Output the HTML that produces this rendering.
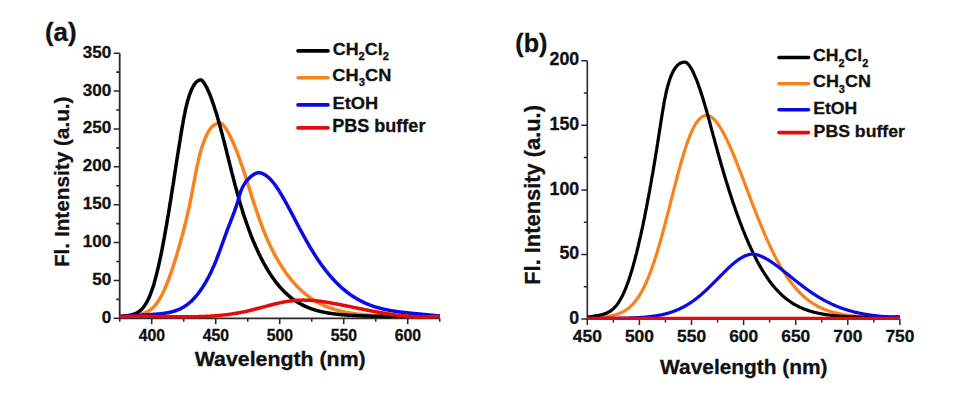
<!DOCTYPE html>
<html><head><meta charset="utf-8"><style>
html,body{margin:0;padding:0;background:#fff;width:969px;height:394px;overflow:hidden}
svg{display:block}
</style></head><body>
<svg width="969" height="394" viewBox="0 0 969 394">
<path d="M119.7,53.2 V318.3 H439.7" fill="none" stroke="#2a2a2a" stroke-width="1.8"/>
<path d="M119.70,318.3 V321.8 M151.70,318.3 V324.3 M183.70,318.3 V321.8 M215.70,318.3 V324.3 M247.70,318.3 V321.8 M279.70,318.3 V324.3 M311.70,318.3 V321.8 M343.70,318.3 V324.3 M375.70,318.3 V321.8 M407.70,318.3 V324.3 M439.70,318.3 V321.8" stroke="#2a2a2a" stroke-width="1.6"/>
<path d="M119.7,318.30 H113.7 M119.7,299.36 H116.2 M119.7,280.43 H113.7 M119.7,261.49 H116.2 M119.7,242.56 H113.7 M119.7,223.62 H116.2 M119.7,204.69 H113.7 M119.7,185.75 H116.2 M119.7,166.81 H113.7 M119.7,147.88 H116.2 M119.7,128.94 H113.7 M119.7,110.01 H116.2 M119.7,91.07 H113.7 M119.7,72.14 H116.2 M119.7,53.20 H113.7" stroke="#2a2a2a" stroke-width="1.6"/>
<path d="M587.3,60.8 V319.0 H899.9" fill="none" stroke="#2a2a2a" stroke-width="1.6"/>
<path d="M587.30,319.0 V325.0 M613.35,319.0 V322.5 M639.40,319.0 V325.0 M665.45,319.0 V322.5 M691.50,319.0 V325.0 M717.55,319.0 V322.5 M743.60,319.0 V325.0 M769.65,319.0 V322.5 M795.70,319.0 V325.0 M821.75,319.0 V322.5 M847.80,319.0 V325.0 M873.85,319.0 V322.5 M899.90,319.0 V325.0" stroke="#2a2a2a" stroke-width="1.5"/>
<path d="M587.3,319.00 H581.3 M587.3,286.73 H583.8 M587.3,254.45 H581.3 M587.3,222.18 H583.8 M587.3,189.90 H581.3 M587.3,157.62 H583.8 M587.3,125.35 H581.3 M587.3,93.08 H583.8 M587.3,60.80 H581.3" stroke="#2a2a2a" stroke-width="1.5"/>
<path d="M119.7,316.66 L120.2,316.62 L120.7,316.58 L121.2,316.54 L121.7,316.50 L122.2,316.46 L122.7,316.42 L123.2,316.38 L123.7,316.34 L124.2,316.29 L124.7,316.25 L125.2,316.21 L125.7,316.17 L126.2,316.13 L126.7,316.09 L127.2,316.04 L127.7,316.00 L128.2,315.96 L128.7,315.91 L129.2,315.87 L129.7,315.82 L130.2,315.77 L130.7,315.72 L131.2,315.67 L131.7,315.62 L132.2,315.57 L132.7,315.51 L133.2,315.46 L133.7,315.40 L134.2,315.34 L134.7,315.27 L135.1,315.21 L135.6,315.14 L136.1,315.07 L136.6,314.99 L137.1,314.91 L137.6,314.83 L138.1,314.74 L138.6,314.65 L139.1,314.55 L139.6,314.45 L140.0,314.34 L140.5,314.23 L141.0,314.11 L141.5,313.99 L142.0,313.85 L142.5,313.71 L142.9,313.56 L143.4,313.41 L143.9,313.24 L144.4,313.07 L144.9,312.89 L145.3,312.69 L145.8,312.49 L146.3,312.28 L146.8,312.05 L147.2,311.81 L147.7,311.56 L148.2,311.29 L148.6,311.01 L149.1,310.72 L149.6,310.40 L150.1,310.08 L150.5,309.73 L151.0,309.37 L151.5,308.99 L152.0,308.58 L152.4,308.16 L152.9,307.72 L153.4,307.25 L153.9,306.76 L154.3,306.25 L154.8,305.71 L155.3,305.15 L155.8,304.56 L156.3,303.94 L156.8,303.29 L157.2,302.62 L157.7,301.91 L158.2,301.18 L158.7,300.41 L159.2,299.61 L159.7,298.78 L160.2,297.91 L160.7,297.01 L161.3,296.07 L161.8,295.10 L162.3,294.10 L162.8,293.05 L163.3,291.97 L163.8,290.85 L164.4,289.70 L164.9,288.51 L165.4,287.27 L166.0,286.00 L166.5,284.69 L167.1,283.35 L167.6,281.96 L168.2,280.53 L168.7,279.07 L169.3,277.57 L169.8,276.02 L170.4,274.44 L171.0,272.82 L171.6,271.17 L172.1,269.47 L172.7,267.74 L173.3,265.98 L173.9,264.17 L174.5,262.34 L175.1,260.46 L175.7,258.56 L176.3,256.62 L176.8,254.65 L177.4,252.65 L178.0,250.62 L178.6,248.56 L179.2,246.47 L179.8,244.36 L180.4,242.22 L181.0,240.05 L181.6,237.87 L182.2,235.66 L182.8,233.44 L183.4,231.20 L184.0,228.94 L184.5,226.66 L185.1,224.38 L185.7,222.08 L186.2,219.77 L186.8,217.46 L187.3,215.13 L187.8,212.81 L188.3,210.48 L188.9,208.15 L189.4,205.82 L189.9,203.49 L190.3,201.17 L190.8,198.86 L191.3,196.55 L191.7,194.26 L192.1,191.97 L192.6,189.70 L193.0,187.45 L193.4,185.22 L193.8,183.00 L194.3,180.81 L194.7,178.65 L195.1,176.51 L195.5,174.40 L195.9,172.32 L196.3,170.27 L196.7,168.25 L197.1,166.27 L197.5,164.32 L198.0,162.42 L198.4,160.55 L198.8,158.72 L199.3,156.94 L199.7,155.19 L200.1,153.50 L200.6,151.84 L201.0,150.24 L201.5,148.68 L202.0,147.17 L202.4,145.70 L202.9,144.29 L203.4,142.92 L203.9,141.61 L204.4,140.34 L204.8,139.12 L205.3,137.96 L205.8,136.84 L206.3,135.77 L206.8,134.75 L207.3,133.78 L207.7,132.86 L208.2,131.98 L208.7,131.16 L209.2,130.38 L209.7,129.65 L210.2,128.96 L210.7,128.32 L211.1,127.72 L211.6,127.17 L212.1,126.66 L212.6,126.19 L213.1,125.76 L213.6,125.37 L214.1,125.02 L214.6,124.71 L215.1,124.43 L215.6,124.18 L216.1,123.97 L216.6,123.79 L217.1,123.64 L217.6,123.51 L218.2,123.41 L218.7,123.33 L219.2,123.28 L219.7,123.24 L220.2,123.21 L220.8,123.26 L221.4,123.56 L222.0,123.96 L222.6,124.45 L223.1,125.01 L223.7,125.62 L224.2,126.29 L224.7,127.02 L225.3,127.78 L225.8,128.59 L226.4,129.45 L226.9,130.33 L227.5,131.26 L228.0,132.21 L228.6,133.20 L229.1,134.22 L229.7,135.26 L230.2,136.34 L230.8,137.43 L231.3,138.56 L231.8,139.70 L232.4,140.87 L232.9,142.06 L233.4,143.26 L234.0,144.49 L234.5,145.73 L235.0,146.99 L235.5,148.26 L236.1,149.55 L236.6,150.85 L237.1,152.17 L237.6,153.50 L238.1,154.83 L238.6,156.18 L239.1,157.54 L239.6,158.91 L240.1,160.28 L240.5,161.67 L241.0,163.06 L241.5,164.45 L242.0,165.85 L242.5,167.26 L242.9,168.67 L243.4,170.09 L243.9,171.50 L244.3,172.93 L244.8,174.35 L245.3,175.77 L245.7,177.20 L246.2,178.63 L246.6,180.05 L247.1,181.48 L247.6,182.91 L248.0,184.33 L248.5,185.75 L248.9,187.18 L249.4,188.60 L249.8,190.01 L250.3,191.43 L250.7,192.84 L251.1,194.24 L251.6,195.65 L252.0,197.05 L252.5,198.44 L252.9,199.83 L253.4,201.21 L253.8,202.59 L254.3,203.96 L254.7,205.33 L255.2,206.68 L255.6,208.04 L256.1,209.38 L256.5,210.72 L257.0,212.05 L257.4,213.37 L257.9,214.69 L258.3,216.00 L258.8,217.30 L259.2,218.59 L259.7,219.87 L260.1,221.14 L260.6,222.41 L261.1,223.66 L261.5,224.91 L262.0,226.15 L262.5,227.37 L262.9,228.59 L263.4,229.80 L263.9,231.00 L264.4,232.18 L264.8,233.36 L265.3,234.53 L265.8,235.68 L266.3,236.83 L266.7,237.97 L267.2,239.09 L267.7,240.21 L268.2,241.31 L268.7,242.40 L269.2,243.49 L269.7,244.56 L270.2,245.62 L270.7,246.67 L271.2,247.70 L271.7,248.73 L272.2,249.75 L272.7,250.75 L273.2,251.74 L273.7,252.73 L274.2,253.70 L274.7,254.66 L275.2,255.61 L275.8,256.55 L276.3,257.47 L276.8,258.39 L277.3,259.30 L277.8,260.19 L278.3,261.08 L278.9,261.95 L279.4,262.81 L279.9,263.67 L280.4,264.51 L280.9,265.34 L281.4,266.16 L282.0,266.97 L282.5,267.77 L283.0,268.56 L283.5,269.34 L284.1,270.11 L284.6,270.87 L285.1,271.62 L285.6,272.36 L286.1,273.09 L286.7,273.81 L287.2,274.52 L287.7,275.22 L288.2,275.91 L288.7,276.59 L289.3,277.27 L289.8,277.93 L290.3,278.58 L290.8,279.23 L291.3,279.86 L291.9,280.49 L292.4,281.10 L292.9,281.71 L293.4,282.31 L293.9,282.90 L294.4,283.48 L295.0,284.06 L295.5,284.62 L296.0,285.18 L296.5,285.73 L297.0,286.27 L297.5,286.80 L298.1,287.32 L298.6,287.84 L299.1,288.35 L299.6,288.85 L300.1,289.34 L300.6,289.82 L301.1,290.30 L301.6,290.77 L302.2,291.23 L302.7,291.69 L303.2,292.14 L303.7,292.58 L304.2,293.01 L304.7,293.44 L305.2,293.86 L305.7,294.28 L306.2,294.68 L306.7,295.08 L307.2,295.48 L307.7,295.87 L308.3,296.25 L308.8,296.63 L309.3,296.99 L309.8,297.36 L310.3,297.72 L310.8,298.07 L311.3,298.41 L311.8,298.75 L312.3,299.09 L312.8,299.42 L313.3,299.74 L313.8,300.06 L314.3,300.38 L314.8,300.68 L315.3,300.99 L315.8,301.28 L316.3,301.58 L316.8,301.87 L317.3,302.15 L317.8,302.43 L318.3,302.70 L318.8,302.97 L319.3,303.23 L319.8,303.49 L320.3,303.75 L320.8,304.00 L321.3,304.25 L321.8,304.49 L322.3,304.73 L322.8,304.96 L323.3,305.19 L323.8,305.42 L324.3,305.64 L324.8,305.86 L325.3,306.07 L325.8,306.28 L326.3,306.49 L326.8,306.69 L327.3,306.89 L327.8,307.09 L328.3,307.28 L328.8,307.47 L329.3,307.65 L329.8,307.84 L330.3,308.02 L330.8,308.19 L331.3,308.36 L331.8,308.53 L332.3,308.70 L332.8,308.86 L333.3,309.02 L333.8,309.18 L334.3,309.34 L334.8,309.49 L335.2,309.64 L335.7,309.78 L336.2,309.93 L336.7,310.07 L337.2,310.21 L337.7,310.34 L338.2,310.48 L338.7,310.61 L339.2,310.73 L339.7,310.86 L340.2,310.98 L340.7,311.11 L341.2,311.22 L341.7,311.34 L342.2,311.46 L342.7,311.57 L343.2,311.68 L343.7,311.79 L344.2,311.89 L344.7,312.00 L345.2,312.10 L345.7,312.20 L346.2,312.30 L346.7,312.40 L347.2,312.49 L347.7,312.58 L348.2,312.68 L348.7,312.77 L349.2,312.85 L349.7,312.94 L350.2,313.02 L350.7,313.11 L351.2,313.19 L351.7,313.27 L352.2,313.35 L352.7,313.42 L353.2,313.50 L353.7,313.57 L354.2,313.64 L354.7,313.71 L355.2,313.78 L355.7,313.85 L356.2,313.92 L356.7,313.98 L357.2,314.05 L357.7,314.11 L358.2,314.17 L358.7,314.23 L359.2,314.29 L359.7,314.35 L360.2,314.41 L360.7,314.47 L361.2,314.52 L361.7,314.57 L362.2,314.63 L362.7,314.68 L363.2,314.73 L363.7,314.78 L364.2,314.83 L364.7,314.88 L365.2,314.92 L365.7,314.97 L366.2,315.01 L366.7,315.06 L367.2,315.10 L367.7,315.14 L368.2,315.18 L368.7,315.22 L369.2,315.26 L369.7,315.30 L370.2,315.34 L370.7,315.38 L371.2,315.41 L371.7,315.45 L372.2,315.49 L372.7,315.52 L373.2,315.55 L373.7,315.59 L374.2,315.62 L374.7,315.65 L375.2,315.68 L375.7,315.71 L376.2,315.74 L376.7,315.77 L377.2,315.80 L377.7,315.82 L378.2,315.85 L378.7,315.88 L379.2,315.90 L379.7,315.93 L380.2,315.95 L380.7,315.98 L381.2,316.00 L381.7,316.02 L382.2,316.05 L382.7,316.07 L383.2,316.09 L383.7,316.11 L384.2,316.13 L384.7,316.15 L385.2,316.17 L385.7,316.19 L386.2,316.20 L386.7,316.22 L387.2,316.24 L387.7,316.26 L388.2,316.27 L388.7,316.29 L389.2,316.30 L389.7,316.32 L390.2,316.33 L390.7,316.35 L391.2,316.36 L391.7,316.37 L392.2,316.39 L392.7,316.40 L393.2,316.41 L393.7,316.42 L394.2,316.43 L394.7,316.44 L395.2,316.45 L395.7,316.46 L396.2,316.47 L396.7,316.48 L397.2,316.49 L397.7,316.50 L398.2,316.50 L398.7,316.51 L399.2,316.52 L399.7,316.52 L400.2,316.53 L400.7,316.54 L401.2,316.54 L401.7,316.55 L402.2,316.55 L402.7,316.56 L403.2,316.56 L403.7,316.56 L404.2,316.57 L404.7,316.57 L405.2,316.57 L405.7,316.57 L406.2,316.57 L406.7,316.58 L407.2,316.58 L407.7,316.58 L408.2,316.58 L408.7,316.58 L409.2,316.58 L409.7,316.58 L410.2,316.57 L410.7,316.57 L411.2,316.57 L411.7,316.57 L412.2,316.57 L412.7,316.56 L413.2,316.56 L413.7,316.56 L414.2,316.55 L414.7,316.55 L415.2,316.54 L415.7,316.54 L416.2,316.53 L416.7,316.53 L417.2,316.52 L417.7,316.51 L418.2,316.51 L418.7,316.50 L419.2,316.49 L419.7,316.48 L420.2,316.47 L420.7,316.46 L421.2,316.46 L421.7,316.45 L422.2,316.44 L422.7,316.43 L423.2,316.41 L423.7,316.40 L424.2,316.39 L424.7,316.38 L425.2,316.37 L425.7,316.36 L426.2,316.34 L426.7,316.33 L427.2,316.32 L427.7,316.30 L428.2,316.29 L428.7,316.27 L429.2,316.26 L429.7,316.24 L430.2,316.22 L430.7,316.21 L431.2,316.19 L431.7,316.17 L432.2,316.16 L432.7,316.14 L433.2,316.12 L433.7,316.10 L434.2,316.08 L434.7,316.06 L435.2,316.04 L435.7,316.02 L436.2,316.00 L436.7,315.98 L437.2,315.96 L437.7,315.94 L438.2,315.91 L438.7,315.89 L439.2,315.87 L439.7,315.85" fill="none" stroke="#F7821E" stroke-width="3.5" stroke-linejoin="round" stroke-linecap="butt"/>
<path d="M119.7,316.30 L120.2,316.27 L120.7,316.24 L121.2,316.21 L121.7,316.18 L122.2,316.14 L122.7,316.11 L123.2,316.07 L123.7,316.03 L124.2,315.98 L124.7,315.94 L125.2,315.89 L125.7,315.84 L126.2,315.78 L126.7,315.72 L127.2,315.65 L127.7,315.59 L128.2,315.51 L128.7,315.43 L129.2,315.35 L129.7,315.25 L130.2,315.15 L130.7,315.05 L131.2,314.93 L131.7,314.81 L132.1,314.68 L132.6,314.54 L133.1,314.39 L133.6,314.22 L134.1,314.05 L134.6,313.86 L135.1,313.66 L135.6,313.45 L136.1,313.22 L136.6,312.97 L137.1,312.71 L137.5,312.43 L138.0,312.13 L138.5,311.82 L139.0,311.48 L139.5,311.12 L140.0,310.73 L140.5,310.32 L140.9,309.89 L141.4,309.43 L141.9,308.94 L142.4,308.42 L142.9,307.87 L143.4,307.29 L143.8,306.67 L144.3,306.02 L144.8,305.33 L145.3,304.61 L145.8,303.84 L146.3,303.04 L146.7,302.19 L147.2,301.30 L147.7,300.36 L148.2,299.38 L148.7,298.35 L149.2,297.27 L149.7,296.14 L150.1,294.96 L150.6,293.72 L151.1,292.43 L151.6,291.09 L152.1,289.69 L152.6,288.23 L153.1,286.72 L153.6,285.15 L154.1,283.51 L154.5,281.82 L155.0,280.07 L155.5,278.25 L156.0,276.38 L156.5,274.44 L157.0,272.44 L157.5,270.38 L158.0,268.25 L158.5,266.07 L159.0,263.82 L159.5,261.51 L160.0,259.14 L160.6,256.72 L161.1,254.23 L161.6,251.68 L162.1,249.08 L162.6,246.43 L163.1,243.71 L163.6,240.95 L164.2,238.14 L164.7,235.27 L165.2,232.36 L165.7,229.41 L166.3,226.41 L166.8,223.37 L167.3,220.29 L167.8,217.18 L168.4,214.03 L168.9,210.86 L169.4,207.66 L169.9,204.43 L170.5,201.18 L171.0,197.92 L171.5,194.64 L172.0,191.35 L172.5,188.05 L173.1,184.75 L173.6,181.44 L174.1,178.14 L174.6,174.85 L175.1,171.56 L175.6,168.29 L176.1,165.04 L176.6,161.80 L177.1,158.60 L177.6,155.41 L178.1,152.26 L178.6,149.15 L179.1,146.07 L179.6,143.04 L180.1,140.05 L180.5,137.11 L181.0,134.21 L181.5,131.38 L181.9,128.60 L182.4,125.88 L182.9,123.22 L183.3,120.63 L183.8,118.11 L184.3,115.66 L184.8,113.28 L185.2,110.97 L185.7,108.75 L186.2,106.60 L186.7,104.54 L187.2,102.55 L187.7,100.66 L188.3,98.84 L188.8,97.11 L189.3,95.47 L189.9,93.92 L190.4,92.45 L190.9,91.08 L191.5,89.78 L192.0,88.58 L192.6,87.47 L193.1,86.44 L193.7,85.49 L194.2,84.64 L194.8,83.86 L195.3,83.17 L195.8,82.56 L196.4,82.02 L196.9,81.56 L197.4,81.17 L197.9,80.84 L198.4,80.57 L198.8,80.36 L199.3,80.21 L199.8,80.09 L200.3,80.02 L200.7,79.98 L201.1,79.97 L201.5,80.07 L201.9,80.39 L202.4,80.87 L202.9,81.45 L203.4,82.13 L204.0,82.89 L204.5,83.72 L205.1,84.62 L205.6,85.58 L206.2,86.61 L206.8,87.69 L207.3,88.82 L207.9,90.00 L208.4,91.23 L209.0,92.50 L209.5,93.81 L210.1,95.16 L210.6,96.54 L211.1,97.96 L211.7,99.41 L212.2,100.89 L212.7,102.39 L213.3,103.93 L213.8,105.49 L214.3,107.07 L214.8,108.68 L215.3,110.30 L215.9,111.95 L216.4,113.62 L216.9,115.30 L217.4,117.00 L217.9,118.71 L218.4,120.44 L218.9,122.18 L219.4,123.94 L219.9,125.70 L220.3,127.47 L220.8,129.26 L221.3,131.05 L221.8,132.85 L222.3,134.65 L222.7,136.47 L223.2,138.28 L223.7,140.10 L224.2,141.93 L224.6,143.76 L225.1,145.58 L225.6,147.42 L226.0,149.25 L226.5,151.08 L226.9,152.91 L227.4,154.74 L227.9,156.57 L228.3,158.39 L228.8,160.21 L229.2,162.03 L229.7,163.85 L230.1,165.66 L230.6,167.47 L231.0,169.27 L231.5,171.06 L231.9,172.85 L232.4,174.63 L232.9,176.40 L233.3,178.17 L233.8,179.93 L234.2,181.68 L234.7,183.42 L235.1,185.15 L235.6,186.87 L236.1,188.59 L236.5,190.29 L237.0,191.98 L237.4,193.66 L237.9,195.34 L238.4,197.00 L238.8,198.64 L239.3,200.28 L239.8,201.90 L240.2,203.52 L240.7,205.12 L241.2,206.71 L241.7,208.28 L242.2,209.84 L242.6,211.39 L243.1,212.93 L243.6,214.45 L244.1,215.96 L244.6,217.45 L245.1,218.93 L245.6,220.40 L246.1,221.85 L246.6,223.29 L247.1,224.71 L247.6,226.12 L248.1,227.52 L248.6,228.90 L249.1,230.27 L249.6,231.62 L250.1,232.96 L250.6,234.28 L251.1,235.59 L251.6,236.88 L252.1,238.16 L252.6,239.43 L253.1,240.68 L253.7,241.91 L254.2,243.13 L254.7,244.34 L255.2,245.53 L255.7,246.71 L256.2,247.88 L256.8,249.03 L257.3,250.16 L257.8,251.28 L258.3,252.39 L258.8,253.48 L259.4,254.56 L259.9,255.62 L260.4,256.67 L260.9,257.71 L261.4,258.73 L262.0,259.74 L262.5,260.74 L263.0,261.72 L263.5,262.69 L264.0,263.64 L264.6,264.58 L265.1,265.51 L265.6,266.43 L266.1,267.33 L266.6,268.22 L267.1,269.09 L267.7,269.96 L268.2,270.81 L268.7,271.64 L269.2,272.47 L269.7,273.28 L270.3,274.08 L270.8,274.87 L271.3,275.65 L271.8,276.41 L272.3,277.17 L272.8,277.91 L273.4,278.64 L273.9,279.35 L274.4,280.06 L274.9,280.76 L275.4,281.44 L275.9,282.11 L276.4,282.78 L277.0,283.43 L277.5,284.07 L278.0,284.70 L278.5,285.32 L279.0,285.93 L279.5,286.53 L280.0,287.12 L280.5,287.70 L281.1,288.27 L281.6,288.83 L282.1,289.38 L282.6,289.92 L283.1,290.45 L283.6,290.97 L284.1,291.48 L284.6,291.99 L285.1,292.48 L285.6,292.97 L286.1,293.45 L286.7,293.92 L287.2,294.38 L287.7,294.83 L288.2,295.27 L288.7,295.71 L289.2,296.14 L289.7,296.56 L290.2,296.97 L290.7,297.38 L291.2,297.78 L291.7,298.17 L292.2,298.55 L292.7,298.93 L293.2,299.29 L293.7,299.66 L294.2,300.01 L294.7,300.36 L295.2,300.70 L295.7,301.04 L296.2,301.37 L296.7,301.69 L297.2,302.01 L297.7,302.32 L298.2,302.62 L298.7,302.92 L299.3,303.21 L299.8,303.50 L300.3,303.78 L300.8,304.06 L301.3,304.33 L301.8,304.59 L302.3,304.85 L302.8,305.11 L303.3,305.36 L303.8,305.60 L304.3,305.84 L304.8,306.08 L305.3,306.31 L305.8,306.53 L306.3,306.75 L306.8,306.97 L307.3,307.18 L307.8,307.39 L308.3,307.59 L308.8,307.79 L309.3,307.99 L309.8,308.18 L310.3,308.36 L310.8,308.55 L311.3,308.73 L311.8,308.90 L312.2,309.07 L312.7,309.24 L313.2,309.41 L313.7,309.57 L314.2,309.73 L314.7,309.88 L315.2,310.03 L315.7,310.18 L316.2,310.32 L316.7,310.47 L317.2,310.61 L317.7,310.74 L318.2,310.87 L318.7,311.00 L319.2,311.13 L319.7,311.25 L320.2,311.38 L320.7,311.50 L321.2,311.61 L321.7,311.73 L322.2,311.84 L322.7,311.95 L323.2,312.05 L323.7,312.16 L324.2,312.26 L324.7,312.36 L325.2,312.46 L325.7,312.55 L326.2,312.64 L326.7,312.73 L327.2,312.82 L327.7,312.91 L328.2,313.00 L328.7,313.08 L329.2,313.16 L329.7,313.24 L330.2,313.32 L330.7,313.39 L331.2,313.47 L331.7,313.54 L332.2,313.61 L332.7,313.68 L333.2,313.75 L333.7,313.81 L334.2,313.88 L334.7,313.94 L335.2,314.00 L335.7,314.07 L336.2,314.12 L336.7,314.18 L337.2,314.24 L337.7,314.29 L338.2,314.35 L338.7,314.40 L339.2,314.45 L339.7,314.50 L340.2,314.55 L340.7,314.60 L341.2,314.65 L341.7,314.69 L342.2,314.74 L342.7,314.78 L343.2,314.82 L343.7,314.86 L344.2,314.91 L344.7,314.95 L345.2,314.98 L345.7,315.02 L346.2,315.06 L346.7,315.10 L347.2,315.13 L347.7,315.17 L348.2,315.20 L348.7,315.23 L349.2,315.27 L349.7,315.30 L350.2,315.33 L350.7,315.36 L351.2,315.39 L351.7,315.42 L352.2,315.44 L352.7,315.47 L353.2,315.50 L353.7,315.53 L354.2,315.55 L354.7,315.58 L355.2,315.60 L355.7,315.62 L356.2,315.65 L356.7,315.67 L357.2,315.69 L357.7,315.71 L358.2,315.74 L358.7,315.76 L359.2,315.78 L359.7,315.80 L360.2,315.82 L360.7,315.84 L361.2,315.85 L361.7,315.87 L362.2,315.89 L362.7,315.91 L363.2,315.92 L363.7,315.94 L364.2,315.96 L364.7,315.97 L365.2,315.99 L365.7,316.00 L366.2,316.02 L366.7,316.03 L367.2,316.04 L367.7,316.06 L368.2,316.07 L368.7,316.08 L369.2,316.10 L369.7,316.11 L370.2,316.12 L370.7,316.13 L371.2,316.15 L371.7,316.16 L372.2,316.17 L372.7,316.18 L373.2,316.19 L373.7,316.20 L374.2,316.21 L374.7,316.22 L375.2,316.23 L375.7,316.24 L376.2,316.25 L376.7,316.25 L377.2,316.26 L377.7,316.27 L378.2,316.28 L378.7,316.29 L379.2,316.30 L379.7,316.30 L380.2,316.31 L380.7,316.32 L381.2,316.32 L381.7,316.33 L382.2,316.34 L382.7,316.34 L383.2,316.35 L383.7,316.35 L384.2,316.36 L384.7,316.37 L385.2,316.37 L385.7,316.38 L386.2,316.38 L386.7,316.39 L387.2,316.39 L387.7,316.40 L388.2,316.40 L388.7,316.40 L389.2,316.41 L389.7,316.41 L390.2,316.42 L390.7,316.42 L391.2,316.42 L391.7,316.43 L392.2,316.43 L392.7,316.43 L393.2,316.44 L393.7,316.44 L394.2,316.44 L394.7,316.44 L395.2,316.44 L395.7,316.45 L396.2,316.45 L396.7,316.45 L397.2,316.45 L397.7,316.45 L398.2,316.46 L398.7,316.46 L399.2,316.46 L399.7,316.46 L400.2,316.46 L400.7,316.46 L401.2,316.46 L401.7,316.46 L402.2,316.46 L402.7,316.46 L403.2,316.46 L403.7,316.46 L404.2,316.46 L404.7,316.46 L405.2,316.46 L405.7,316.46 L406.2,316.46 L406.7,316.46 L407.2,316.46 L407.7,316.46 L408.2,316.45 L408.7,316.45 L409.2,316.45 L409.7,316.45 L410.2,316.45 L410.7,316.45 L411.2,316.44 L411.7,316.44 L412.2,316.44 L412.7,316.44 L413.2,316.43 L413.7,316.43 L414.2,316.43 L414.7,316.42 L415.2,316.42 L415.7,316.42 L416.2,316.41 L416.7,316.41 L417.2,316.41 L417.7,316.40 L418.2,316.40 L418.7,316.39 L419.2,316.39 L419.7,316.39 L420.2,316.38 L420.7,316.38 L421.2,316.37 L421.7,316.37 L422.2,316.36 L422.7,316.36 L423.2,316.35 L423.7,316.34 L424.2,316.34 L424.7,316.33 L425.2,316.33 L425.7,316.32 L426.2,316.31 L426.7,316.31 L427.2,316.30 L427.7,316.29 L428.2,316.29 L428.7,316.28 L429.2,316.27 L429.7,316.27 L430.2,316.26 L430.7,316.25 L431.2,316.24 L431.7,316.23 L432.2,316.23 L432.7,316.22 L433.2,316.21 L433.7,316.20 L434.2,316.19 L434.7,316.18 L435.2,316.17 L435.7,316.16 L436.2,316.15 L436.7,316.14 L437.2,316.13 L437.7,316.12 L438.2,316.11 L438.7,316.10 L439.2,316.09 L439.7,316.08" fill="none" stroke="#000000" stroke-width="3.5" stroke-linejoin="round" stroke-linecap="butt"/>
<path d="M119.7,317.09 L120.2,317.03 L120.7,316.96 L121.2,316.90 L121.7,316.84 L122.2,316.78 L122.7,316.72 L123.2,316.67 L123.7,316.61 L124.2,316.55 L124.7,316.50 L125.2,316.44 L125.7,316.39 L126.2,316.34 L126.7,316.29 L127.2,316.24 L127.7,316.19 L128.2,316.14 L128.7,316.09 L129.2,316.04 L129.7,316.00 L130.2,315.95 L130.7,315.91 L131.2,315.86 L131.7,315.82 L132.2,315.78 L132.7,315.74 L133.2,315.70 L133.7,315.66 L134.2,315.62 L134.7,315.58 L135.2,315.54 L135.7,315.50 L136.2,315.46 L136.7,315.43 L137.2,315.39 L137.7,315.36 L138.2,315.32 L138.7,315.29 L139.2,315.25 L139.7,315.22 L140.2,315.19 L140.7,315.16 L141.2,315.12 L141.7,315.09 L142.2,315.06 L142.7,315.03 L143.2,315.00 L143.7,314.97 L144.2,314.94 L144.7,314.91 L145.2,314.88 L145.7,314.85 L146.2,314.82 L146.7,314.79 L147.2,314.76 L147.7,314.73 L148.2,314.70 L148.7,314.67 L149.2,314.64 L149.7,314.61 L150.1,314.58 L150.6,314.55 L151.1,314.52 L151.6,314.48 L152.1,314.45 L152.6,314.42 L153.1,314.39 L153.6,314.35 L154.1,314.32 L154.6,314.28 L155.1,314.25 L155.6,314.21 L156.1,314.17 L156.6,314.13 L157.1,314.09 L157.6,314.05 L158.1,314.00 L158.6,313.96 L159.1,313.91 L159.6,313.87 L160.0,313.82 L160.5,313.77 L161.0,313.71 L161.5,313.66 L162.0,313.60 L162.5,313.54 L163.0,313.48 L163.5,313.42 L164.0,313.35 L164.5,313.28 L165.0,313.21 L165.5,313.14 L166.0,313.06 L166.4,312.98 L166.9,312.89 L167.4,312.81 L167.9,312.72 L168.4,312.62 L168.9,312.52 L169.4,312.42 L169.9,312.32 L170.4,312.21 L170.9,312.09 L171.3,311.97 L171.8,311.85 L172.3,311.72 L172.8,311.59 L173.3,311.45 L173.8,311.30 L174.3,311.15 L174.8,311.00 L175.3,310.84 L175.8,310.67 L176.2,310.49 L176.7,310.31 L177.2,310.12 L177.7,309.93 L178.2,309.73 L178.7,309.52 L179.2,309.30 L179.7,309.07 L180.2,308.84 L180.7,308.60 L181.2,308.35 L181.7,308.09 L182.2,307.82 L182.7,307.54 L183.2,307.26 L183.7,306.96 L184.2,306.65 L184.7,306.34 L185.2,306.01 L185.7,305.67 L186.2,305.32 L186.7,304.96 L187.2,304.59 L187.7,304.20 L188.2,303.81 L188.7,303.40 L189.2,302.97 L189.7,302.54 L190.2,302.09 L190.8,301.63 L191.3,301.16 L191.8,300.67 L192.3,300.17 L192.8,299.65 L193.3,299.12 L193.9,298.58 L194.4,298.02 L194.9,297.44 L195.4,296.85 L196.0,296.25 L196.5,295.62 L197.0,294.99 L197.5,294.33 L198.1,293.67 L198.6,292.98 L199.1,292.28 L199.6,291.56 L200.2,290.83 L200.7,290.08 L201.2,289.31 L201.8,288.52 L202.3,287.72 L202.8,286.91 L203.4,286.07 L203.9,285.22 L204.4,284.35 L205.0,283.46 L205.5,282.56 L206.0,281.64 L206.6,280.70 L207.1,279.75 L207.6,278.77 L208.1,277.79 L208.7,276.78 L209.2,275.76 L209.7,274.72 L210.2,273.66 L210.8,272.59 L211.3,271.50 L211.8,270.40 L212.3,269.28 L212.8,268.14 L213.3,266.99 L213.9,265.83 L214.4,264.65 L214.9,263.45 L215.4,262.24 L215.9,261.02 L216.4,259.78 L216.8,258.53 L217.3,257.26 L217.8,255.99 L218.3,254.70 L218.8,253.41 L219.3,252.10 L219.8,250.78 L220.3,249.46 L220.8,248.12 L221.2,246.78 L221.7,245.43 L222.2,244.07 L222.7,242.71 L223.2,241.34 L223.7,239.97 L224.2,238.59 L224.7,237.22 L225.2,235.83 L225.7,234.45 L226.2,233.07 L226.7,231.69 L227.2,230.30 L227.7,228.92 L228.3,227.54 L228.8,226.17 L229.3,224.79 L229.9,223.42 L230.4,222.06 L230.9,220.69 L231.4,219.33 L232.0,217.98 L232.5,216.63 L233.0,215.28 L233.5,213.94 L234.0,212.61 L234.5,211.28 L234.9,209.96 L235.4,208.64 L235.8,207.34 L236.3,206.04 L236.7,204.74 L237.1,203.46 L237.5,202.19 L237.9,200.92 L238.2,199.67 L238.6,198.42 L239.0,197.20 L239.3,195.99 L239.7,194.79 L240.0,193.62 L240.4,192.48 L240.8,191.36 L241.2,190.27 L241.7,189.20 L242.1,188.17 L242.6,187.18 L243.1,186.22 L243.6,185.29 L244.1,184.40 L244.7,183.55 L245.3,182.73 L245.8,181.95 L246.4,181.20 L247.0,180.49 L247.6,179.81 L248.2,179.17 L248.8,178.56 L249.3,177.98 L249.9,177.43 L250.5,176.92 L251.0,176.43 L251.6,175.98 L252.2,175.56 L252.7,175.16 L253.2,174.80 L253.7,174.47 L254.3,174.16 L254.8,173.89 L255.3,173.64 L255.8,173.42 L256.3,173.24 L256.8,173.08 L257.2,172.95 L257.7,172.85 L258.2,172.79 L258.7,172.75 L259.2,172.74 L259.7,172.78 L260.2,172.85 L260.7,172.96 L261.2,173.09 L261.7,173.25 L262.2,173.43 L262.7,173.64 L263.2,173.87 L263.7,174.13 L264.2,174.40 L264.7,174.70 L265.2,175.02 L265.8,175.36 L266.3,175.72 L266.8,176.10 L267.3,176.50 L267.8,176.92 L268.4,177.36 L268.9,177.82 L269.4,178.29 L269.9,178.79 L270.4,179.31 L270.9,179.84 L271.4,180.39 L271.9,180.95 L272.4,181.54 L272.9,182.13 L273.4,182.75 L273.9,183.38 L274.4,184.02 L274.9,184.67 L275.4,185.34 L275.9,186.02 L276.4,186.71 L276.8,187.42 L277.3,188.14 L277.8,188.86 L278.3,189.60 L278.8,190.35 L279.2,191.10 L279.7,191.87 L280.2,192.64 L280.7,193.43 L281.1,194.22 L281.6,195.02 L282.1,195.82 L282.6,196.64 L283.0,197.46 L283.5,198.29 L284.0,199.12 L284.5,199.96 L284.9,200.81 L285.4,201.66 L285.9,202.52 L286.4,203.38 L286.8,204.25 L287.3,205.12 L287.8,206.00 L288.3,206.88 L288.7,207.77 L289.2,208.66 L289.7,209.55 L290.2,210.44 L290.6,211.34 L291.1,212.24 L291.6,213.14 L292.1,214.05 L292.5,214.95 L293.0,215.86 L293.5,216.77 L294.0,217.68 L294.4,218.60 L294.9,219.51 L295.4,220.42 L295.9,221.34 L296.4,222.25 L296.8,223.16 L297.3,224.08 L297.8,224.99 L298.3,225.90 L298.8,226.81 L299.2,227.73 L299.7,228.64 L300.2,229.54 L300.7,230.45 L301.2,231.35 L301.7,232.26 L302.2,233.16 L302.6,234.06 L303.1,234.95 L303.6,235.85 L304.1,236.74 L304.6,237.62 L305.1,238.51 L305.6,239.39 L306.1,240.27 L306.6,241.14 L307.1,242.01 L307.6,242.88 L308.1,243.75 L308.6,244.60 L309.0,245.46 L309.5,246.31 L310.0,247.16 L310.5,248.00 L311.0,248.84 L311.6,249.67 L312.1,250.50 L312.6,251.32 L313.1,252.14 L313.6,252.95 L314.1,253.76 L314.6,254.56 L315.1,255.36 L315.6,256.15 L316.1,256.93 L316.6,257.71 L317.1,258.48 L317.6,259.25 L318.1,260.01 L318.7,260.77 L319.2,261.52 L319.7,262.26 L320.2,263.00 L320.7,263.73 L321.2,264.46 L321.8,265.18 L322.3,265.89 L322.8,266.60 L323.3,267.29 L323.8,267.99 L324.4,268.67 L324.9,269.35 L325.4,270.03 L325.9,270.69 L326.4,271.35 L327.0,272.01 L327.5,272.65 L328.0,273.29 L328.5,273.93 L329.1,274.55 L329.6,275.17 L330.1,275.79 L330.6,276.39 L331.2,276.99 L331.7,277.59 L332.2,278.17 L332.7,278.75 L333.2,279.33 L333.8,279.89 L334.3,280.45 L334.8,281.01 L335.3,281.55 L335.9,282.09 L336.4,282.63 L336.9,283.16 L337.4,283.68 L338.0,284.19 L338.5,284.70 L339.0,285.20 L339.5,285.69 L340.1,286.18 L340.6,286.66 L341.1,287.14 L341.6,287.61 L342.1,288.07 L342.7,288.53 L343.2,288.98 L343.7,289.42 L344.2,289.86 L344.7,290.29 L345.3,290.72 L345.8,291.14 L346.3,291.55 L346.8,291.96 L347.3,292.36 L347.9,292.76 L348.4,293.15 L348.9,293.53 L349.4,293.91 L349.9,294.28 L350.4,294.65 L351.0,295.01 L351.5,295.37 L352.0,295.72 L352.5,296.07 L353.0,296.41 L353.5,296.74 L354.0,297.07 L354.5,297.39 L355.1,297.71 L355.6,298.03 L356.1,298.34 L356.6,298.64 L357.1,298.94 L357.6,299.23 L358.1,299.52 L358.6,299.81 L359.1,300.09 L359.6,300.36 L360.1,300.63 L360.7,300.90 L361.2,301.16 L361.7,301.42 L362.2,301.67 L362.7,301.92 L363.2,302.16 L363.7,302.40 L364.2,302.64 L364.7,302.87 L365.2,303.09 L365.7,303.32 L366.2,303.54 L366.7,303.75 L367.2,303.96 L367.7,304.17 L368.2,304.38 L368.7,304.58 L369.2,304.77 L369.7,304.97 L370.2,305.16 L370.7,305.34 L371.2,305.53 L371.7,305.71 L372.2,305.88 L372.7,306.05 L373.2,306.22 L373.7,306.39 L374.2,306.55 L374.7,306.72 L375.2,306.87 L375.7,307.03 L376.2,307.18 L376.7,307.33 L377.2,307.48 L377.7,307.62 L378.2,307.76 L378.7,307.90 L379.2,308.03 L379.7,308.17 L380.2,308.30 L380.6,308.42 L381.1,308.55 L381.6,308.67 L382.1,308.80 L382.6,308.91 L383.1,309.03 L383.6,309.14 L384.1,309.26 L384.6,309.37 L385.1,309.48 L385.6,309.58 L386.1,309.69 L386.6,309.79 L387.1,309.89 L387.6,309.99 L388.1,310.08 L388.6,310.18 L389.1,310.27 L389.6,310.36 L390.0,310.45 L390.5,310.54 L391.0,310.63 L391.5,310.71 L392.0,310.80 L392.5,310.88 L393.0,310.96 L393.5,311.04 L394.0,311.12 L394.5,311.19 L395.0,311.27 L395.5,311.34 L396.0,311.42 L396.5,311.49 L397.0,311.56 L397.5,311.63 L398.0,311.70 L398.4,311.76 L398.9,311.83 L399.4,311.90 L399.9,311.96 L400.4,312.02 L400.9,312.09 L401.4,312.15 L401.9,312.21 L402.4,312.27 L402.9,312.33 L403.4,312.39 L403.9,312.44 L404.4,312.50 L404.9,312.56 L405.4,312.61 L405.9,312.67 L406.4,312.72 L406.9,312.78 L407.4,312.83 L407.9,312.88 L408.3,312.94 L408.8,312.99 L409.3,313.04 L409.8,313.09 L410.3,313.14 L410.8,313.19 L411.3,313.24 L411.8,313.29 L412.3,313.34 L412.8,313.39 L413.3,313.44 L413.8,313.48 L414.3,313.53 L414.8,313.58 L415.3,313.63 L415.8,313.67 L416.3,313.72 L416.8,313.77 L417.3,313.82 L417.8,313.86 L418.3,313.91 L418.8,313.96 L419.3,314.00 L419.8,314.05 L420.3,314.10 L420.8,314.14 L421.3,314.19 L421.8,314.24 L422.3,314.28 L422.8,314.33 L423.2,314.38 L423.7,314.42 L424.2,314.47 L424.7,314.52 L425.2,314.57 L425.7,314.61 L426.2,314.66 L426.7,314.71 L427.2,314.76 L427.7,314.81 L428.2,314.85 L428.7,314.90 L429.2,314.95 L429.7,315.00 L430.2,315.05 L430.7,315.10 L431.2,315.15 L431.7,315.20 L432.2,315.25 L432.7,315.31 L433.2,315.36 L433.7,315.41 L434.2,315.46 L434.7,315.52 L435.2,315.57 L435.7,315.62 L436.2,315.68 L436.7,315.73 L437.2,315.79 L437.7,315.84 L438.2,315.90 L438.7,315.96 L439.2,316.01 L439.7,316.07" fill="none" stroke="#0A0AE6" stroke-width="3.5" stroke-linejoin="round" stroke-linecap="butt"/>
<path d="M119.7,316.81 L120.7,316.76 L121.7,316.71 L122.7,316.66 L123.7,316.62 L124.7,316.58 L125.7,316.55 L126.7,316.52 L127.7,316.48 L128.7,316.46 L129.7,316.43 L130.7,316.41 L131.7,316.39 L132.7,316.37 L133.7,316.35 L134.7,316.34 L135.7,316.33 L136.7,316.32 L137.7,316.31 L138.7,316.30 L139.7,316.30 L140.7,316.29 L141.7,316.29 L142.7,316.29 L143.7,316.29 L144.7,316.30 L145.7,316.30 L146.7,316.31 L147.7,316.31 L148.7,316.32 L149.7,316.33 L150.7,316.34 L151.7,316.35 L152.7,316.36 L153.7,316.38 L154.7,316.39 L155.7,316.40 L156.7,316.42 L157.7,316.43 L158.7,316.45 L159.7,316.46 L160.7,316.48 L161.7,316.50 L162.7,316.51 L163.7,316.53 L164.7,316.55 L165.7,316.56 L166.7,316.58 L167.7,316.59 L168.7,316.61 L169.7,316.63 L170.7,316.64 L171.7,316.66 L172.7,316.67 L173.7,316.68 L174.7,316.70 L175.7,316.71 L176.7,316.72 L177.7,316.73 L178.7,316.74 L179.7,316.75 L180.7,316.75 L181.7,316.76 L182.7,316.76 L183.7,316.77 L184.7,316.77 L185.7,316.77 L186.7,316.77 L187.7,316.76 L188.7,316.76 L189.7,316.75 L190.7,316.74 L191.7,316.73 L192.7,316.72 L193.7,316.71 L194.7,316.69 L195.7,316.67 L196.7,316.65 L197.7,316.63 L198.7,316.60 L199.7,316.58 L200.7,316.55 L201.7,316.51 L202.7,316.48 L203.7,316.44 L204.7,316.40 L205.7,316.36 L206.7,316.31 L207.7,316.26 L208.7,316.21 L209.7,316.15 L210.7,316.09 L211.7,316.03 L212.7,315.96 L213.7,315.89 L214.7,315.82 L215.7,315.74 L216.7,315.66 L217.7,315.58 L218.7,315.49 L219.7,315.40 L220.7,315.30 L221.7,315.20 L222.7,315.10 L223.7,314.99 L224.7,314.88 L225.7,314.76 L226.7,314.64 L227.7,314.52 L228.7,314.39 L229.7,314.25 L230.7,314.12 L231.7,313.97 L232.7,313.82 L233.7,313.67 L234.7,313.51 L235.7,313.35 L236.7,313.18 L237.7,313.01 L238.7,312.83 L239.7,312.65 L240.7,312.46 L241.7,312.26 L242.7,312.06 L243.7,311.86 L244.7,311.65 L245.7,311.43 L246.7,311.21 L247.7,310.98 L248.7,310.75 L249.7,310.51 L250.7,310.27 L251.7,310.02 L252.7,309.77 L253.7,309.52 L254.7,309.26 L255.7,309.00 L256.7,308.74 L257.7,308.48 L258.7,308.21 L259.7,307.95 L260.7,307.68 L261.7,307.41 L262.7,307.14 L263.7,306.87 L264.7,306.61 L265.7,306.34 L266.7,306.07 L267.7,305.81 L268.7,305.55 L269.7,305.29 L270.7,305.03 L271.7,304.77 L272.7,304.52 L273.7,304.27 L274.7,304.03 L275.7,303.79 L276.7,303.55 L277.7,303.32 L278.7,303.10 L279.7,302.88 L280.7,302.66 L281.7,302.45 L282.7,302.25 L283.7,302.06 L284.7,301.87 L285.7,301.69 L286.7,301.52 L287.7,301.36 L288.7,301.20 L289.7,301.06 L290.7,300.92 L291.7,300.80 L292.7,300.68 L293.7,300.58 L294.7,300.48 L295.7,300.40 L296.7,300.33 L297.7,300.27 L298.7,300.22 L299.7,300.18 L300.7,300.15 L301.7,300.13 L302.7,300.12 L303.7,300.12 L304.7,300.13 L305.7,300.14 L306.7,300.17 L307.7,300.21 L308.7,300.25 L309.7,300.30 L310.7,300.37 L311.7,300.43 L312.7,300.51 L313.7,300.59 L314.7,300.68 L315.7,300.78 L316.7,300.89 L317.7,301.00 L318.7,301.11 L319.7,301.23 L320.7,301.36 L321.7,301.50 L322.7,301.64 L323.7,301.78 L324.7,301.93 L325.7,302.08 L326.7,302.24 L327.7,302.40 L328.7,302.57 L329.7,302.74 L330.7,302.91 L331.7,303.09 L332.7,303.27 L333.7,303.45 L334.7,303.64 L335.7,303.83 L336.7,304.02 L337.7,304.21 L338.7,304.40 L339.7,304.59 L340.7,304.79 L341.7,304.99 L342.7,305.19 L343.7,305.38 L344.7,305.58 L345.7,305.78 L346.7,305.99 L347.7,306.19 L348.7,306.39 L349.7,306.59 L350.7,306.80 L351.7,307.00 L352.7,307.20 L353.7,307.41 L354.7,307.61 L355.7,307.81 L356.7,308.02 L357.7,308.22 L358.7,308.42 L359.7,308.62 L360.7,308.83 L361.7,309.03 L362.7,309.23 L363.7,309.43 L364.7,309.63 L365.7,309.82 L366.7,310.02 L367.7,310.22 L368.7,310.41 L369.7,310.61 L370.7,310.80 L371.7,310.99 L372.7,311.18 L373.7,311.37 L374.7,311.55 L375.7,311.74 L376.7,311.92 L377.7,312.10 L378.7,312.28 L379.7,312.46 L380.7,312.63 L381.7,312.80 L382.7,312.97 L383.7,313.14 L384.7,313.31 L385.7,313.47 L386.7,313.63 L387.7,313.79 L388.7,313.94 L389.7,314.09 L390.7,314.24 L391.7,314.39 L392.7,314.53 L393.7,314.67 L394.7,314.80 L395.7,314.94 L396.7,315.07 L397.7,315.19 L398.7,315.31 L399.7,315.43 L400.7,315.54 L401.7,315.65 L402.7,315.76 L403.7,315.86 L404.7,315.96 L405.7,316.05 L406.7,316.14 L407.7,316.23 L408.7,316.31 L409.7,316.39 L410.7,316.46 L411.7,316.52 L412.7,316.58 L413.7,316.64 L414.7,316.69 L415.7,316.74 L416.7,316.78 L417.7,316.82 L418.7,316.85 L419.7,316.88 L420.7,316.90 L421.7,316.91 L422.7,316.92 L423.7,316.92 L424.7,316.92 L425.7,316.91 L426.7,316.90 L427.7,316.88 L428.7,316.85 L429.7,316.82 L430.7,316.78 L431.7,316.73 L432.7,316.68 L433.7,316.62 L434.7,316.56 L435.7,316.49 L436.7,316.41 L437.7,316.32 L438.7,316.23 L439.7,316.13" fill="none" stroke="#E60A0A" stroke-width="3.5" stroke-linejoin="round" stroke-linecap="butt"/>
<path d="M587.3,317.37 L587.8,317.36 L588.3,317.35 L588.8,317.35 L589.3,317.34 L589.8,317.33 L590.3,317.32 L590.8,317.32 L591.3,317.31 L591.8,317.30 L592.3,317.29 L592.8,317.27 L593.3,317.26 L593.8,317.25 L594.3,317.23 L594.8,317.22 L595.3,317.20 L595.8,317.19 L596.3,317.17 L596.8,317.15 L597.3,317.13 L597.8,317.11 L598.3,317.09 L598.8,317.06 L599.3,317.04 L599.8,317.01 L600.3,316.98 L600.8,316.95 L601.3,316.92 L601.8,316.89 L602.3,316.85 L602.8,316.81 L603.3,316.77 L603.8,316.73 L604.3,316.69 L604.8,316.64 L605.3,316.59 L605.8,316.54 L606.3,316.48 L606.8,316.43 L607.3,316.36 L607.8,316.30 L608.3,316.23 L608.8,316.16 L609.3,316.09 L609.8,316.01 L610.3,315.92 L610.8,315.84 L611.3,315.75 L611.8,315.65 L612.3,315.55 L612.8,315.44 L613.3,315.33 L613.8,315.21 L614.3,315.09 L614.8,314.96 L615.3,314.83 L615.8,314.69 L616.3,314.54 L616.8,314.39 L617.3,314.23 L617.8,314.06 L618.3,313.89 L618.8,313.70 L619.3,313.51 L619.8,313.31 L620.3,313.10 L620.8,312.89 L621.3,312.66 L621.8,312.42 L622.3,312.18 L622.8,311.92 L623.3,311.65 L623.8,311.38 L624.3,311.09 L624.8,310.79 L625.3,310.48 L625.8,310.15 L626.3,309.82 L626.8,309.47 L627.3,309.11 L627.8,308.73 L628.3,308.34 L628.8,307.94 L629.3,307.52 L629.8,307.09 L630.3,306.64 L630.8,306.18 L631.3,305.70 L631.8,305.20 L632.3,304.69 L632.8,304.16 L633.3,303.61 L633.8,303.04 L634.3,302.46 L634.8,301.86 L635.3,301.24 L635.8,300.60 L636.3,299.94 L636.8,299.26 L637.3,298.56 L637.8,297.84 L638.3,297.09 L638.8,296.33 L639.3,295.55 L639.8,294.74 L640.3,293.92 L640.8,293.07 L641.3,292.19 L641.8,291.30 L642.3,290.38 L642.8,289.44 L643.3,288.47 L643.8,287.49 L644.3,286.47 L644.8,285.44 L645.3,284.38 L645.8,283.29 L646.3,282.18 L646.8,281.05 L647.3,279.89 L647.8,278.71 L648.3,277.50 L648.8,276.27 L649.3,275.01 L649.8,273.73 L650.3,272.43 L650.8,271.10 L651.3,269.74 L651.8,268.36 L652.3,266.96 L652.8,265.53 L653.3,264.08 L653.8,262.61 L654.3,261.11 L654.8,259.59 L655.3,258.05 L655.8,256.48 L656.3,254.89 L656.8,253.28 L657.3,251.65 L657.8,250.00 L658.3,248.32 L658.8,246.63 L659.3,244.92 L659.8,243.19 L660.3,241.44 L660.8,239.67 L661.3,237.88 L661.8,236.08 L662.3,234.26 L662.8,232.43 L663.3,230.58 L663.8,228.72 L664.3,226.85 L664.8,224.96 L665.3,223.06 L665.8,221.15 L666.3,219.23 L666.8,217.30 L667.3,215.37 L667.8,213.42 L668.3,211.47 L668.8,209.52 L669.3,207.55 L669.8,205.59 L670.3,203.62 L670.8,201.66 L671.3,199.69 L671.8,197.72 L672.3,195.75 L672.8,193.79 L673.3,191.83 L673.8,189.87 L674.3,187.92 L674.8,185.98 L675.3,184.05 L675.8,182.12 L676.3,180.20 L676.8,178.30 L677.3,176.41 L677.8,174.53 L678.3,172.66 L678.8,170.81 L679.3,168.98 L679.8,167.16 L680.3,165.36 L680.8,163.58 L681.3,161.83 L681.8,160.09 L682.3,158.38 L682.8,156.69 L683.3,155.02 L683.8,153.38 L684.3,151.77 L684.8,150.18 L685.3,148.62 L685.8,147.09 L686.3,145.60 L686.8,144.13 L687.3,142.69 L687.8,141.28 L688.3,139.91 L688.8,138.57 L689.3,137.27 L689.8,136.00 L690.3,134.76 L690.8,133.56 L691.3,132.40 L691.8,131.28 L692.3,130.19 L692.8,129.14 L693.3,128.13 L693.8,127.16 L694.3,126.22 L694.8,125.33 L695.3,124.48 L695.8,123.66 L696.3,122.88 L696.8,122.15 L697.3,121.45 L697.8,120.80 L698.3,120.18 L698.8,119.60 L699.3,119.07 L699.8,118.57 L700.3,118.11 L700.8,117.69 L701.3,117.31 L701.8,116.97 L702.3,116.66 L702.8,116.39 L703.3,116.16 L703.8,115.96 L704.3,115.80 L704.8,115.67 L705.3,115.57 L705.8,115.50 L706.3,115.46 L706.8,115.44 L707.3,115.45 L707.8,115.52 L708.3,115.63 L708.8,115.78 L709.3,115.96 L709.8,116.19 L710.3,116.44 L710.8,116.74 L711.3,117.06 L711.8,117.41 L712.3,117.80 L712.8,118.21 L713.3,118.65 L713.8,119.13 L714.3,119.62 L714.8,120.15 L715.3,120.70 L715.8,121.28 L716.3,121.89 L716.8,122.52 L717.3,123.17 L717.8,123.85 L718.3,124.55 L718.8,125.28 L719.3,126.02 L719.8,126.79 L720.3,127.58 L720.8,128.40 L721.3,129.23 L721.8,130.08 L722.3,130.95 L722.8,131.84 L723.3,132.75 L723.8,133.68 L724.3,134.63 L724.8,135.59 L725.3,136.58 L725.8,137.57 L726.3,138.59 L726.8,139.62 L727.3,140.66 L727.8,141.72 L728.3,142.80 L728.8,143.88 L729.3,144.99 L729.8,146.10 L730.3,147.23 L730.8,148.37 L731.3,149.52 L731.8,150.68 L732.3,151.86 L732.8,153.04 L733.3,154.23 L733.8,155.44 L734.3,156.65 L734.8,157.87 L735.3,159.11 L735.8,160.35 L736.3,161.59 L736.8,162.85 L737.3,164.11 L737.8,165.38 L738.3,166.65 L738.8,167.93 L739.3,169.21 L739.8,170.50 L740.3,171.80 L740.8,173.10 L741.3,174.40 L741.8,175.71 L742.3,177.02 L742.8,178.33 L743.3,179.65 L743.8,180.96 L744.3,182.28 L744.8,183.60 L745.3,184.93 L745.8,186.25 L746.3,187.57 L746.8,188.90 L747.3,190.22 L747.8,191.54 L748.3,192.87 L748.8,194.19 L749.3,195.51 L749.8,196.83 L750.3,198.14 L750.8,199.46 L751.3,200.77 L751.8,202.08 L752.3,203.38 L752.8,204.69 L753.3,205.99 L753.8,207.28 L754.3,208.58 L754.8,209.86 L755.3,211.15 L755.8,212.43 L756.3,213.70 L756.8,214.97 L757.3,216.23 L757.8,217.49 L758.3,218.75 L758.8,219.99 L759.3,221.23 L759.8,222.47 L760.3,223.69 L760.8,224.92 L761.3,226.13 L761.8,227.34 L762.3,228.54 L762.8,229.73 L763.3,230.92 L763.8,232.09 L764.3,233.26 L764.8,234.43 L765.3,235.58 L765.8,236.73 L766.3,237.87 L766.8,238.99 L767.3,240.12 L767.8,241.23 L768.3,242.33 L768.8,243.43 L769.3,244.51 L769.8,245.59 L770.3,246.66 L770.8,247.72 L771.3,248.77 L771.8,249.81 L772.3,250.84 L772.8,251.86 L773.3,252.87 L773.8,253.88 L774.3,254.87 L774.8,255.85 L775.3,256.83 L775.8,257.79 L776.3,258.74 L776.8,259.69 L777.3,260.62 L777.8,261.55 L778.3,262.46 L778.8,263.37 L779.3,264.27 L779.8,265.15 L780.3,266.03 L780.8,266.89 L781.3,267.75 L781.8,268.59 L782.3,269.43 L782.8,270.26 L783.3,271.07 L783.8,271.88 L784.3,272.67 L784.8,273.46 L785.3,274.24 L785.8,275.01 L786.3,275.76 L786.8,276.51 L787.3,277.25 L787.8,277.98 L788.3,278.70 L788.8,279.40 L789.3,280.10 L789.8,280.79 L790.3,281.47 L790.8,282.15 L791.3,282.81 L791.8,283.46 L792.3,284.10 L792.8,284.74 L793.3,285.36 L793.8,285.98 L794.3,286.59 L794.8,287.18 L795.3,287.77 L795.8,288.35 L796.3,288.93 L796.8,289.49 L797.3,290.04 L797.8,290.59 L798.3,291.13 L798.8,291.65 L799.3,292.18 L799.8,292.69 L800.3,293.19 L800.8,293.69 L801.3,294.18 L801.8,294.66 L802.3,295.13 L802.8,295.59 L803.3,296.05 L803.8,296.50 L804.3,296.94 L804.8,297.37 L805.3,297.80 L805.8,298.22 L806.3,298.63 L806.8,299.03 L807.3,299.43 L807.8,299.82 L808.3,300.21 L808.8,300.58 L809.3,300.95 L809.8,301.32 L810.3,301.67 L810.8,302.02 L811.3,302.37 L811.8,302.70 L812.3,303.03 L812.8,303.36 L813.3,303.68 L813.8,303.99 L814.3,304.30 L814.8,304.60 L815.3,304.89 L815.8,305.18 L816.3,305.47 L816.8,305.75 L817.3,306.02 L817.8,306.29 L818.3,306.55 L818.8,306.81 L819.3,307.06 L819.8,307.30 L820.3,307.55 L820.8,307.78 L821.3,308.02 L821.8,308.24 L822.3,308.47 L822.8,308.68 L823.3,308.90 L823.8,309.11 L824.3,309.31 L824.8,309.51 L825.3,309.71 L825.8,309.90 L826.3,310.09 L826.8,310.27 L827.3,310.45 L827.8,310.63 L828.3,310.80 L828.8,310.97 L829.3,311.13 L829.8,311.29 L830.3,311.45 L830.8,311.60 L831.3,311.75 L831.8,311.90 L832.3,312.04 L832.8,312.18 L833.3,312.32 L833.8,312.46 L834.3,312.59 L834.8,312.71 L835.3,312.84 L835.8,312.96 L836.3,313.08 L836.8,313.20 L837.3,313.31 L837.8,313.42 L838.3,313.53 L838.8,313.64 L839.3,313.74 L839.8,313.84 L840.3,313.94 L840.8,314.04 L841.3,314.13 L841.8,314.22 L842.3,314.31 L842.8,314.40 L843.3,314.48 L843.8,314.57 L844.3,314.65 L844.8,314.73 L845.3,314.80 L845.8,314.88 L846.3,314.95 L846.8,315.02 L847.3,315.09 L847.8,315.16 L848.3,315.22 L848.8,315.29 L849.3,315.35 L849.8,315.41 L850.3,315.47 L850.8,315.53 L851.3,315.58 L851.8,315.64 L852.3,315.69 L852.8,315.74 L853.3,315.80 L853.8,315.84 L854.3,315.89 L854.8,315.94 L855.3,315.98 L855.8,316.03 L856.3,316.07 L856.8,316.11 L857.3,316.15 L857.8,316.19 L858.3,316.23 L858.8,316.27 L859.3,316.31 L859.8,316.34 L860.3,316.38 L860.8,316.41 L861.3,316.44 L861.8,316.47 L862.3,316.51 L862.8,316.54 L863.3,316.56 L863.8,316.59 L864.3,316.62 L864.8,316.65 L865.3,316.67 L865.8,316.70 L866.3,316.72 L866.8,316.75 L867.3,316.77 L867.8,316.79 L868.3,316.81 L868.8,316.84 L869.3,316.86 L869.8,316.88 L870.3,316.90 L870.8,316.91 L871.3,316.93 L871.8,316.95 L872.3,316.97 L872.8,316.98 L873.3,317.00 L873.8,317.02 L874.3,317.03 L874.8,317.05 L875.3,317.06 L875.8,317.07 L876.3,317.09 L876.8,317.10 L877.3,317.11 L877.8,317.13 L878.3,317.14 L878.8,317.15 L879.3,317.16 L879.8,317.17 L880.3,317.18 L880.8,317.19 L881.3,317.20 L881.8,317.21 L882.3,317.22 L882.8,317.23 L883.3,317.24 L883.8,317.25 L884.3,317.26 L884.8,317.26 L885.3,317.27 L885.8,317.28 L886.3,317.29 L886.8,317.29 L887.3,317.30 L887.8,317.31 L888.3,317.31 L888.8,317.32 L889.3,317.33 L889.8,317.33 L890.3,317.34 L890.8,317.34 L891.3,317.35 L891.8,317.35 L892.3,317.36 L892.8,317.36 L893.3,317.37 L893.8,317.37 L894.3,317.38 L894.8,317.38 L895.3,317.38 L895.8,317.39 L896.3,317.39 L896.8,317.40 L897.3,317.40 L897.8,317.40 L898.3,317.41 L898.8,317.41 L899.3,317.41 L899.8,317.42" fill="none" stroke="#F7821E" stroke-width="3.2" stroke-linejoin="round" stroke-linecap="butt"/>
<path d="M587.3,317.19 L587.8,317.11 L588.3,317.02 L588.8,316.94 L589.3,316.86 L589.8,316.78 L590.3,316.71 L590.8,316.63 L591.3,316.55 L591.8,316.48 L592.3,316.40 L592.8,316.33 L593.3,316.25 L593.8,316.17 L594.3,316.10 L594.7,316.02 L595.2,315.94 L595.7,315.86 L596.2,315.78 L596.7,315.70 L597.2,315.62 L597.7,315.53 L598.2,315.44 L598.7,315.35 L599.1,315.25 L599.6,315.15 L600.1,315.05 L600.6,314.95 L601.1,314.84 L601.6,314.72 L602.0,314.60 L602.5,314.47 L603.0,314.34 L603.5,314.20 L603.9,314.05 L604.4,313.90 L604.9,313.73 L605.4,313.56 L605.8,313.38 L606.3,313.19 L606.8,312.99 L607.2,312.78 L607.7,312.55 L608.2,312.32 L608.6,312.07 L609.1,311.80 L609.6,311.53 L610.1,311.23 L610.5,310.92 L611.0,310.59 L611.5,310.25 L611.9,309.88 L612.4,309.49 L612.9,309.08 L613.4,308.65 L613.9,308.20 L614.3,307.72 L614.8,307.21 L615.3,306.68 L615.8,306.12 L616.3,305.53 L616.8,304.91 L617.3,304.26 L617.8,303.57 L618.3,302.85 L618.8,302.10 L619.3,301.31 L619.8,300.48 L620.3,299.62 L620.8,298.72 L621.3,297.78 L621.9,296.79 L622.4,295.77 L622.9,294.71 L623.4,293.60 L623.9,292.45 L624.5,291.25 L625.0,290.01 L625.5,288.72 L626.1,287.39 L626.6,286.01 L627.1,284.58 L627.7,283.11 L628.2,281.58 L628.8,280.01 L629.3,278.39 L629.8,276.72 L630.4,275.00 L630.9,273.24 L631.5,271.42 L632.1,269.55 L632.6,267.64 L633.2,265.67 L633.7,263.66 L634.3,261.59 L634.9,259.48 L635.4,257.33 L636.0,255.12 L636.6,252.87 L637.1,250.57 L637.7,248.23 L638.3,245.84 L638.8,243.41 L639.4,240.94 L640.0,238.42 L640.6,235.87 L641.1,233.27 L641.7,230.64 L642.3,227.98 L642.9,225.28 L643.4,222.54 L644.0,219.78 L644.6,216.98 L645.1,214.16 L645.7,211.31 L646.3,208.43 L646.8,205.53 L647.4,202.62 L647.9,199.68 L648.5,196.73 L649.0,193.76 L649.6,190.78 L650.1,187.79 L650.7,184.80 L651.2,181.79 L651.7,178.79 L652.2,175.78 L652.8,172.77 L653.3,169.77 L653.8,166.78 L654.3,163.79 L654.8,160.81 L655.3,157.85 L655.7,154.90 L656.2,151.97 L656.7,149.05 L657.1,146.16 L657.6,143.30 L658.0,140.46 L658.5,137.65 L658.9,134.87 L659.3,132.12 L659.8,129.41 L660.2,126.73 L660.6,124.09 L661.0,121.49 L661.4,118.94 L661.8,116.42 L662.2,113.96 L662.6,111.54 L663.0,109.17 L663.4,106.85 L663.8,104.58 L664.1,102.37 L664.5,100.21 L665.0,98.11 L665.4,96.06 L665.8,94.08 L666.2,92.15 L666.7,90.29 L667.1,88.48 L667.6,86.74 L668.0,85.06 L668.5,83.45 L669.0,81.90 L669.4,80.41 L669.9,78.98 L670.4,77.62 L670.9,76.33 L671.4,75.10 L671.9,73.93 L672.5,72.82 L673.0,71.78 L673.5,70.80 L674.0,69.88 L674.6,69.02 L675.1,68.22 L675.6,67.48 L676.2,66.80 L676.7,66.17 L677.2,65.59 L677.7,65.07 L678.3,64.60 L678.8,64.18 L679.3,63.81 L679.8,63.48 L680.3,63.20 L680.8,62.96 L681.3,62.75 L681.8,62.59 L682.3,62.45 L682.8,62.35 L683.3,62.27 L683.8,62.22 L684.3,62.19 L684.8,62.18 L685.3,62.17 L685.8,62.25 L686.2,62.47 L686.7,62.79 L687.2,63.19 L687.7,63.67 L688.2,64.21 L688.7,64.82 L689.2,65.48 L689.7,66.20 L690.2,66.97 L690.8,67.78 L691.3,68.65 L691.8,69.56 L692.3,70.51 L692.8,71.50 L693.3,72.54 L693.8,73.61 L694.3,74.71 L694.8,75.86 L695.3,77.03 L695.8,78.24 L696.4,79.48 L696.9,80.76 L697.4,82.06 L697.9,83.38 L698.3,84.74 L698.8,86.12 L699.3,87.52 L699.8,88.95 L700.3,90.40 L700.8,91.87 L701.3,93.37 L701.8,94.88 L702.3,96.41 L702.8,97.96 L703.2,99.53 L703.7,101.11 L704.2,102.71 L704.7,104.33 L705.1,105.96 L705.6,107.60 L706.1,109.25 L706.6,110.92 L707.0,112.60 L707.5,114.29 L708.0,115.98 L708.4,117.69 L708.9,119.41 L709.4,121.13 L709.9,122.86 L710.3,124.59 L710.8,126.34 L711.3,128.08 L711.7,129.84 L712.2,131.59 L712.7,133.35 L713.1,135.11 L713.6,136.88 L714.1,138.64 L714.6,140.41 L715.0,142.17 L715.5,143.94 L716.0,145.71 L716.5,147.47 L717.0,149.24 L717.4,151.00 L717.9,152.76 L718.4,154.52 L718.9,156.27 L719.4,158.03 L719.9,159.77 L720.4,161.52 L720.9,163.25 L721.4,164.99 L721.9,166.72 L722.4,168.44 L722.9,170.15 L723.4,171.86 L723.9,173.57 L724.4,175.26 L724.9,176.95 L725.4,178.64 L725.9,180.31 L726.4,181.98 L727.0,183.63 L727.5,185.28 L728.0,186.92 L728.5,188.55 L729.0,190.18 L729.5,191.79 L730.0,193.39 L730.6,194.99 L731.1,196.57 L731.6,198.14 L732.1,199.71 L732.6,201.26 L733.1,202.80 L733.7,204.33 L734.2,205.85 L734.7,207.36 L735.2,208.85 L735.7,210.34 L736.3,211.81 L736.8,213.27 L737.3,214.73 L737.8,216.16 L738.4,217.59 L738.9,219.00 L739.4,220.41 L739.9,221.80 L740.4,223.17 L741.0,224.54 L741.5,225.89 L742.0,227.23 L742.5,228.56 L743.0,229.87 L743.6,231.18 L744.1,232.46 L744.6,233.74 L745.1,235.00 L745.6,236.26 L746.1,237.49 L746.7,238.72 L747.2,239.93 L747.7,241.13 L748.2,242.32 L748.7,243.49 L749.2,244.65 L749.8,245.80 L750.3,246.94 L750.8,248.06 L751.3,249.17 L751.8,250.27 L752.3,251.35 L752.8,252.42 L753.3,253.48 L753.9,254.53 L754.4,255.56 L754.9,256.58 L755.4,257.59 L755.9,258.59 L756.4,259.57 L756.9,260.54 L757.4,261.50 L757.9,262.45 L758.4,263.38 L758.9,264.30 L759.4,265.21 L760.0,266.11 L760.5,267.00 L761.0,267.87 L761.5,268.74 L762.0,269.59 L762.5,270.43 L763.0,271.26 L763.5,272.07 L764.0,272.88 L764.5,273.67 L765.0,274.46 L765.5,275.23 L766.0,275.99 L766.5,276.74 L767.0,277.48 L767.5,278.21 L768.0,278.93 L768.5,279.63 L769.0,280.33 L769.5,281.02 L770.0,281.70 L770.5,282.36 L771.0,283.02 L771.5,283.66 L772.0,284.30 L772.5,284.93 L773.0,285.54 L773.5,286.15 L774.0,286.75 L774.5,287.34 L775.0,287.92 L775.5,288.49 L776.0,289.05 L776.5,289.60 L777.0,290.14 L777.5,290.68 L778.0,291.20 L778.5,291.72 L778.9,292.23 L779.4,292.73 L779.9,293.22 L780.4,293.70 L780.9,294.18 L781.4,294.65 L781.9,295.11 L782.4,295.56 L782.9,296.00 L783.4,296.44 L783.9,296.87 L784.4,297.29 L784.9,297.70 L785.4,298.11 L785.9,298.51 L786.4,298.90 L786.9,299.29 L787.4,299.67 L787.9,300.04 L788.4,300.40 L788.9,300.76 L789.4,301.12 L789.9,301.46 L790.4,301.80 L790.9,302.13 L791.4,302.46 L791.9,302.78 L792.3,303.10 L792.8,303.41 L793.3,303.71 L793.8,304.01 L794.3,304.30 L794.8,304.59 L795.3,304.87 L795.8,305.15 L796.3,305.42 L796.8,305.69 L797.3,305.95 L797.8,306.20 L798.3,306.45 L798.8,306.70 L799.3,306.94 L799.8,307.18 L800.3,307.41 L800.8,307.64 L801.3,307.86 L801.8,308.08 L802.3,308.29 L802.8,308.50 L803.3,308.71 L803.8,308.91 L804.3,309.10 L804.8,309.30 L805.3,309.49 L805.8,309.67 L806.3,309.86 L806.8,310.03 L807.3,310.21 L807.8,310.38 L808.3,310.55 L808.8,310.71 L809.3,310.87 L809.8,311.03 L810.3,311.18 L810.8,311.33 L811.3,311.48 L811.8,311.62 L812.3,311.77 L812.8,311.90 L813.3,312.04 L813.8,312.17 L814.3,312.30 L814.8,312.43 L815.3,312.55 L815.8,312.67 L816.3,312.79 L816.8,312.91 L817.3,313.02 L817.8,313.13 L818.3,313.24 L818.8,313.35 L819.3,313.45 L819.8,313.55 L820.3,313.65 L820.8,313.75 L821.3,313.84 L821.8,313.94 L822.3,314.03 L822.8,314.12 L823.3,314.20 L823.8,314.29 L824.3,314.37 L824.8,314.45 L825.3,314.53 L825.8,314.61 L826.3,314.68 L826.8,314.76 L827.3,314.83 L827.8,314.90 L828.3,314.97 L828.8,315.03 L829.3,315.10 L829.8,315.16 L830.3,315.23 L830.8,315.29 L831.3,315.35 L831.8,315.40 L832.3,315.46 L832.8,315.52 L833.3,315.57 L833.8,315.62 L834.3,315.67 L834.8,315.72 L835.3,315.77 L835.8,315.82 L836.3,315.87 L836.8,315.91 L837.3,315.96 L837.8,316.00 L838.3,316.04 L838.8,316.08 L839.3,316.12 L839.8,316.16 L840.3,316.20 L840.8,316.23 L841.3,316.27 L841.8,316.30 L842.3,316.34 L842.8,316.37 L843.3,316.40 L843.8,316.43 L844.3,316.46 L844.8,316.49 L845.3,316.52 L845.8,316.55 L846.3,316.58 L846.8,316.60 L847.3,316.63 L847.8,316.65 L848.3,316.68 L848.8,316.70 L849.3,316.72 L849.8,316.75 L850.3,316.77 L850.8,316.79 L851.3,316.81 L851.8,316.83 L852.3,316.85 L852.8,316.87 L853.3,316.88 L853.8,316.90 L854.3,316.92 L854.8,316.93 L855.3,316.95 L855.8,316.96 L856.3,316.98 L856.8,316.99 L857.3,317.00 L857.8,317.02 L858.3,317.03 L858.8,317.04 L859.3,317.05 L859.8,317.06 L860.3,317.07 L860.8,317.08 L861.3,317.09 L861.8,317.10 L862.3,317.11 L862.8,317.12 L863.3,317.12 L863.8,317.13 L864.3,317.14 L864.8,317.14 L865.3,317.15 L865.8,317.16 L866.3,317.16 L866.8,317.17 L867.3,317.17 L867.8,317.18 L868.3,317.18 L868.8,317.18 L869.3,317.19 L869.8,317.19 L870.3,317.19 L870.8,317.19 L871.3,317.20 L871.8,317.20 L872.3,317.20 L872.8,317.20 L873.3,317.20 L873.8,317.20 L874.3,317.20 L874.8,317.20 L875.3,317.20 L875.8,317.20 L876.3,317.20 L876.8,317.19 L877.3,317.19 L877.8,317.19 L878.3,317.19 L878.8,317.18 L879.3,317.18 L879.8,317.18 L880.3,317.17 L880.8,317.17 L881.3,317.17 L881.8,317.16 L882.3,317.16 L882.8,317.15 L883.3,317.15 L883.8,317.14 L884.3,317.14 L884.8,317.13 L885.3,317.12 L885.8,317.12 L886.3,317.11 L886.8,317.10 L887.3,317.10 L887.8,317.09 L888.3,317.08 L888.8,317.07 L889.3,317.07 L889.8,317.06 L890.3,317.05 L890.8,317.04 L891.3,317.03 L891.8,317.02 L892.3,317.01 L892.8,317.00 L893.3,316.99 L893.8,316.98 L894.3,316.97 L894.8,316.96 L895.3,316.95 L895.8,316.94 L896.3,316.93 L896.8,316.92 L897.3,316.90 L897.8,316.89 L898.3,316.88 L898.8,316.87 L899.3,316.85 L899.8,316.84" fill="none" stroke="#000000" stroke-width="3.2" stroke-linejoin="round" stroke-linecap="butt"/>
<path d="M587.3,318.42 L587.8,318.42 L588.3,318.42 L588.8,318.41 L589.3,318.41 L589.8,318.41 L590.3,318.41 L590.8,318.41 L591.3,318.41 L591.8,318.40 L592.3,318.40 L592.8,318.40 L593.3,318.40 L593.8,318.40 L594.3,318.40 L594.8,318.39 L595.3,318.39 L595.8,318.39 L596.3,318.39 L596.8,318.39 L597.3,318.38 L597.8,318.38 L598.3,318.38 L598.8,318.38 L599.3,318.38 L599.8,318.37 L600.3,318.37 L600.8,318.37 L601.3,318.37 L601.8,318.36 L602.3,318.36 L602.8,318.36 L603.3,318.36 L603.8,318.35 L604.3,318.35 L604.8,318.35 L605.3,318.34 L605.8,318.34 L606.3,318.34 L606.8,318.33 L607.3,318.33 L607.8,318.33 L608.3,318.32 L608.8,318.32 L609.3,318.32 L609.8,318.31 L610.3,318.31 L610.8,318.30 L611.3,318.30 L611.8,318.29 L612.3,318.29 L612.8,318.28 L613.3,318.28 L613.8,318.27 L614.3,318.27 L614.8,318.26 L615.3,318.26 L615.8,318.25 L616.3,318.24 L616.8,318.24 L617.3,318.23 L617.8,318.22 L618.3,318.22 L618.8,318.21 L619.3,318.20 L619.8,318.19 L620.3,318.18 L620.8,318.18 L621.3,318.17 L621.8,318.16 L622.3,318.15 L622.8,318.14 L623.3,318.13 L623.8,318.12 L624.3,318.11 L624.8,318.09 L625.3,318.08 L625.8,318.07 L626.3,318.06 L626.8,318.04 L627.3,318.03 L627.8,318.02 L628.3,318.00 L628.8,317.99 L629.3,317.97 L629.8,317.96 L630.3,317.94 L630.8,317.92 L631.3,317.91 L631.8,317.89 L632.3,317.87 L632.8,317.85 L633.3,317.83 L633.8,317.81 L634.3,317.79 L634.8,317.76 L635.3,317.74 L635.8,317.72 L636.3,317.69 L636.8,317.67 L637.3,317.64 L637.8,317.61 L638.3,317.59 L638.8,317.56 L639.3,317.53 L639.8,317.50 L640.3,317.47 L640.8,317.43 L641.3,317.40 L641.8,317.36 L642.3,317.33 L642.8,317.29 L643.3,317.25 L643.8,317.21 L644.3,317.17 L644.8,317.13 L645.3,317.09 L645.8,317.05 L646.3,317.00 L646.8,316.95 L647.3,316.90 L647.8,316.86 L648.3,316.80 L648.8,316.75 L649.3,316.70 L649.8,316.64 L650.3,316.58 L650.8,316.52 L651.3,316.46 L651.8,316.40 L652.3,316.34 L652.8,316.27 L653.3,316.20 L653.8,316.13 L654.3,316.06 L654.8,315.99 L655.3,315.91 L655.8,315.83 L656.3,315.75 L656.8,315.67 L657.3,315.59 L657.8,315.50 L658.3,315.41 L658.8,315.32 L659.3,315.23 L659.8,315.13 L660.3,315.03 L660.8,314.93 L661.3,314.83 L661.8,314.72 L662.3,314.62 L662.8,314.51 L663.3,314.39 L663.8,314.27 L664.3,314.15 L664.8,314.03 L665.3,313.91 L665.8,313.78 L666.3,313.65 L666.8,313.51 L667.3,313.37 L667.8,313.23 L668.3,313.09 L668.8,312.94 L669.3,312.79 L669.8,312.64 L670.3,312.48 L670.8,312.32 L671.3,312.15 L671.8,311.99 L672.3,311.81 L672.8,311.64 L673.3,311.46 L673.8,311.28 L674.3,311.09 L674.8,310.90 L675.3,310.71 L675.8,310.51 L676.3,310.31 L676.8,310.10 L677.3,309.89 L677.8,309.67 L678.3,309.46 L678.8,309.23 L679.3,309.01 L679.8,308.77 L680.3,308.54 L680.8,308.30 L681.3,308.05 L681.8,307.81 L682.3,307.55 L682.8,307.29 L683.3,307.03 L683.8,306.77 L684.3,306.49 L684.8,306.22 L685.3,305.94 L685.8,305.65 L686.3,305.36 L686.8,305.07 L687.3,304.77 L687.8,304.47 L688.3,304.16 L688.8,303.85 L689.3,303.53 L689.8,303.21 L690.3,302.88 L690.8,302.55 L691.3,302.21 L691.8,301.87 L692.3,301.52 L692.8,301.17 L693.3,300.82 L693.8,300.46 L694.3,300.09 L694.8,299.72 L695.3,299.35 L695.8,298.97 L696.3,298.59 L696.8,298.20 L697.3,297.81 L697.8,297.41 L698.3,297.01 L698.8,296.60 L699.3,296.19 L699.8,295.78 L700.3,295.36 L700.8,294.94 L701.3,294.51 L701.8,294.08 L702.3,293.64 L702.8,293.20 L703.3,292.76 L703.8,292.31 L704.3,291.86 L704.8,291.41 L705.3,290.95 L705.8,290.49 L706.3,290.03 L706.8,289.56 L707.3,289.09 L707.8,288.61 L708.3,288.13 L708.8,287.65 L709.3,287.17 L709.8,286.68 L710.3,286.20 L710.8,285.71 L711.3,285.21 L711.8,284.72 L712.3,284.22 L712.8,283.72 L713.3,283.22 L713.8,282.72 L714.3,282.21 L714.8,281.71 L715.3,281.20 L715.8,280.69 L716.3,280.18 L716.8,279.67 L717.3,279.16 L717.8,278.65 L718.3,278.14 L718.8,277.63 L719.3,277.12 L719.8,276.61 L720.3,276.10 L720.8,275.59 L721.3,275.08 L721.8,274.58 L722.3,274.07 L722.8,273.57 L723.3,273.06 L723.8,272.56 L724.3,272.06 L724.8,271.57 L725.3,271.07 L725.8,270.58 L726.3,270.09 L726.8,269.61 L727.3,269.13 L727.8,268.65 L728.3,268.17 L728.8,267.70 L729.3,267.24 L729.8,266.77 L730.3,266.31 L730.8,265.86 L731.3,265.41 L731.8,264.97 L732.3,264.53 L732.8,264.10 L733.3,263.68 L733.8,263.26 L734.3,262.84 L734.8,262.44 L735.3,262.04 L735.8,261.65 L736.3,261.26 L736.8,260.88 L737.3,260.51 L737.8,260.15 L738.3,259.80 L738.8,259.45 L739.3,259.12 L739.8,258.79 L740.3,258.47 L740.8,258.16 L741.3,257.86 L741.8,257.57 L742.3,257.29 L742.8,257.02 L743.3,256.76 L743.8,256.51 L744.3,256.28 L744.8,256.05 L745.3,255.83 L745.8,255.63 L746.3,255.44 L746.8,255.26 L747.3,255.09 L747.8,254.93 L748.3,254.79 L748.8,254.66 L749.3,254.54 L749.8,254.44 L750.3,254.35 L750.8,254.28 L751.3,254.22 L751.8,254.17 L752.3,254.14 L752.8,254.13 L753.3,254.15 L753.8,254.20 L754.3,254.26 L754.8,254.33 L755.3,254.42 L755.8,254.52 L756.3,254.63 L756.8,254.76 L757.3,254.89 L757.8,255.04 L758.3,255.19 L758.8,255.36 L759.3,255.54 L759.8,255.72 L760.3,255.91 L760.8,256.11 L761.3,256.32 L761.8,256.54 L762.3,256.77 L762.8,257.00 L763.3,257.24 L763.8,257.49 L764.3,257.74 L764.8,258.00 L765.3,258.27 L765.8,258.54 L766.3,258.82 L766.8,259.10 L767.3,259.39 L767.8,259.69 L768.3,259.99 L768.8,260.30 L769.3,260.61 L769.8,260.93 L770.3,261.25 L770.8,261.58 L771.3,261.91 L771.8,262.24 L772.3,262.58 L772.8,262.92 L773.3,263.27 L773.8,263.62 L774.3,263.97 L774.8,264.33 L775.3,264.69 L775.8,265.05 L776.3,265.42 L776.8,265.79 L777.3,266.16 L777.8,266.54 L778.3,266.91 L778.8,267.29 L779.3,267.68 L779.8,268.06 L780.3,268.45 L780.8,268.83 L781.3,269.22 L781.8,269.62 L782.3,270.01 L782.8,270.40 L783.3,270.80 L783.8,271.19 L784.3,271.59 L784.8,271.99 L785.3,272.39 L785.8,272.79 L786.3,273.19 L786.8,273.59 L787.3,274.00 L787.8,274.40 L788.3,274.80 L788.8,275.21 L789.3,275.61 L789.8,276.01 L790.3,276.42 L790.8,276.82 L791.3,277.22 L791.8,277.62 L792.3,278.03 L792.8,278.43 L793.3,278.83 L793.8,279.23 L794.3,279.63 L794.8,280.03 L795.3,280.43 L795.8,280.82 L796.3,281.22 L796.8,281.62 L797.3,282.01 L797.8,282.40 L798.3,282.79 L798.8,283.18 L799.3,283.57 L799.8,283.96 L800.3,284.35 L800.8,284.73 L801.3,285.11 L801.8,285.50 L802.3,285.88 L802.8,286.25 L803.3,286.63 L803.8,287.00 L804.3,287.38 L804.8,287.75 L805.3,288.11 L805.8,288.48 L806.3,288.85 L806.8,289.21 L807.3,289.57 L807.8,289.93 L808.3,290.28 L808.8,290.63 L809.3,290.99 L809.8,291.33 L810.3,291.68 L810.8,292.02 L811.3,292.37 L811.8,292.71 L812.3,293.04 L812.8,293.38 L813.3,293.71 L813.8,294.04 L814.3,294.36 L814.8,294.69 L815.3,295.01 L815.8,295.33 L816.3,295.65 L816.8,295.96 L817.3,296.27 L817.8,296.58 L818.3,296.89 L818.8,297.19 L819.3,297.49 L819.8,297.79 L820.3,298.08 L820.8,298.37 L821.3,298.66 L821.8,298.95 L822.3,299.23 L822.8,299.51 L823.3,299.79 L823.8,300.07 L824.3,300.34 L824.8,300.61 L825.3,300.88 L825.8,301.14 L826.3,301.41 L826.8,301.67 L827.3,301.92 L827.8,302.18 L828.3,302.43 L828.8,302.67 L829.3,302.92 L829.8,303.16 L830.3,303.40 L830.8,303.64 L831.3,303.87 L831.8,304.11 L832.3,304.34 L832.8,304.56 L833.3,304.79 L833.8,305.01 L834.3,305.23 L834.8,305.44 L835.3,305.65 L835.8,305.87 L836.3,306.07 L836.8,306.28 L837.3,306.48 L837.8,306.68 L838.3,306.88 L838.8,307.07 L839.3,307.27 L839.8,307.46 L840.3,307.64 L840.8,307.83 L841.3,308.01 L841.8,308.19 L842.3,308.37 L842.8,308.55 L843.3,308.72 L843.8,308.89 L844.3,309.06 L844.8,309.22 L845.3,309.39 L845.8,309.55 L846.3,309.71 L846.8,309.86 L847.3,310.02 L847.8,310.17 L848.3,310.32 L848.8,310.47 L849.3,310.61 L849.8,310.76 L850.3,310.90 L850.8,311.04 L851.3,311.17 L851.8,311.31 L852.3,311.44 L852.8,311.57 L853.3,311.70 L853.8,311.83 L854.3,311.95 L854.8,312.08 L855.3,312.20 L855.8,312.32 L856.3,312.43 L856.8,312.55 L857.3,312.66 L857.8,312.77 L858.3,312.88 L858.8,312.99 L859.3,313.10 L859.8,313.20 L860.3,313.31 L860.8,313.41 L861.3,313.51 L861.8,313.60 L862.3,313.70 L862.8,313.79 L863.3,313.89 L863.8,313.98 L864.3,314.07 L864.8,314.16 L865.3,314.24 L865.8,314.33 L866.3,314.41 L866.8,314.49 L867.3,314.57 L867.8,314.65 L868.3,314.73 L868.8,314.81 L869.3,314.88 L869.8,314.96 L870.3,315.03 L870.8,315.10 L871.3,315.17 L871.8,315.24 L872.3,315.31 L872.8,315.37 L873.3,315.44 L873.8,315.50 L874.3,315.56 L874.8,315.62 L875.3,315.68 L875.8,315.74 L876.3,315.80 L876.8,315.86 L877.3,315.91 L877.8,315.97 L878.3,316.02 L878.8,316.07 L879.3,316.12 L879.8,316.17 L880.3,316.22 L880.8,316.27 L881.3,316.32 L881.8,316.37 L882.3,316.41 L882.8,316.46 L883.3,316.50 L883.8,316.54 L884.3,316.59 L884.8,316.63 L885.3,316.67 L885.8,316.71 L886.3,316.74 L886.8,316.78 L887.3,316.82 L887.8,316.86 L888.3,316.89 L888.8,316.93 L889.3,316.96 L889.8,316.99 L890.3,317.03 L890.8,317.06 L891.3,317.09 L891.8,317.12 L892.3,317.15 L892.8,317.18 L893.3,317.21 L893.8,317.24 L894.3,317.26 L894.8,317.29 L895.3,317.32 L895.8,317.34 L896.3,317.37 L896.8,317.39 L897.3,317.41 L897.8,317.44 L898.3,317.46 L898.8,317.48 L899.3,317.50 L899.8,317.53" fill="none" stroke="#0A0AE6" stroke-width="3.2" stroke-linejoin="round" stroke-linecap="butt"/>
<path d="M587.3,318.3 L899.9,318.3" fill="none" stroke="#E60A0A" stroke-width="3.2" stroke-linejoin="round" stroke-linecap="butt"/>
<g font-family="Liberation Sans, sans-serif" font-weight="bold" fill="#111" stroke="#111" stroke-width="0.3"><text x="111.38" y="322.80" text-anchor="end" font-size="17.126">0</text>
<text x="111.38" y="284.93" text-anchor="end" font-size="17.126">50</text>
<text x="111.38" y="247.06" text-anchor="end" font-size="17.126">100</text>
<text x="111.38" y="209.19" text-anchor="end" font-size="17.126">150</text>
<text x="111.38" y="171.31" text-anchor="end" font-size="17.126">200</text>
<text x="111.38" y="133.44" text-anchor="end" font-size="17.126">250</text>
<text x="111.38" y="95.57" text-anchor="end" font-size="17.126">300</text>
<text x="111.38" y="57.70" text-anchor="end" font-size="17.126">350</text>
<text x="151.91" y="340.73" text-anchor="middle" font-size="15.826">400</text>
<text x="215.91" y="340.73" text-anchor="middle" font-size="15.826">450</text>
<text x="279.91" y="340.73" text-anchor="middle" font-size="15.826">500</text>
<text x="343.91" y="340.73" text-anchor="middle" font-size="15.826">550</text>
<text x="407.91" y="340.73" text-anchor="middle" font-size="15.826">600</text>
<text x="579.23" y="323.64" text-anchor="end" font-size="17.803">0</text>
<text x="579.23" y="259.09" text-anchor="end" font-size="17.803">50</text>
<text x="579.23" y="194.54" text-anchor="end" font-size="17.803">100</text>
<text x="579.23" y="129.99" text-anchor="end" font-size="17.803">150</text>
<text x="579.23" y="65.44" text-anchor="end" font-size="17.803">200</text>
<text x="587.37" y="341.67" text-anchor="middle" font-size="17.412">450</text>
<text x="639.47" y="341.67" text-anchor="middle" font-size="17.412">500</text>
<text x="691.57" y="341.67" text-anchor="middle" font-size="17.412">550</text>
<text x="743.67" y="341.67" text-anchor="middle" font-size="17.412">600</text>
<text x="795.77" y="341.67" text-anchor="middle" font-size="17.412">650</text>
<text x="847.87" y="341.67" text-anchor="middle" font-size="17.412">700</text>
<text x="899.97" y="341.67" text-anchor="middle" font-size="17.412">750</text>
<text x="280.22" y="366.02" text-anchor="middle" font-size="20.828" textLength="170.94" lengthAdjust="spacingAndGlyphs">Wavelength (nm)</text>
<text x="743.85" y="374.28" text-anchor="middle" font-size="20.528" textLength="167.46" lengthAdjust="spacingAndGlyphs">Wavelength (nm)</text>
<text transform="translate(68.78,181.78) rotate(-90)" text-anchor="middle" font-size="20.5" textLength="170.59" lengthAdjust="spacingAndGlyphs">Fl. Intensity (a.u.)</text>
<text transform="translate(539.55,194.92) rotate(-90)" text-anchor="middle" font-size="22.129" textLength="179.77" lengthAdjust="spacingAndGlyphs">Fl. Intensity (a.u.)</text>
<text x="44.95" y="40.60" text-anchor="start" font-size="25.815">(a)</text>
<text x="515.37" y="51.93" text-anchor="start" font-size="25.129">(b)</text>
<path d="M298,50.9 H328" stroke="#000000" stroke-width="3.6" stroke-linecap="round"/>
<text x="332.78" y="54.52" text-anchor="start" font-size="17.4" textLength="56.05" lengthAdjust="spacingAndGlyphs">CH<tspan font-size="0.62em" dy="5.3">2</tspan><tspan dy="-5.3">Cl</tspan><tspan font-size="0.62em" dy="5.3">2</tspan></text>
<path d="M298,77.7 H328" stroke="#F7821E" stroke-width="3.6" stroke-linecap="round"/>
<text x="332.36" y="81.11" text-anchor="start" font-size="17.4" textLength="58.94" lengthAdjust="spacingAndGlyphs">CH<tspan font-size="0.62em" dy="5.3">3</tspan><tspan dy="-5.3">CN</tspan></text>
<path d="M298,104.9 H328" stroke="#0A0AE6" stroke-width="3.6" stroke-linecap="round"/>
<text x="332.57" y="108.59" text-anchor="start" font-size="17.182" textLength="45.71" lengthAdjust="spacingAndGlyphs">EtOH</text>
<path d="M298,127.9 H328" stroke="#E60A0A" stroke-width="3.6" stroke-linecap="round"/>
<text x="332.29" y="131.66" text-anchor="start" font-size="17.913" textLength="93.14" lengthAdjust="spacingAndGlyphs">PBS buffer</text>
<path d="M779,57.5 H808.5" stroke="#000000" stroke-width="3.6" stroke-linecap="round"/>
<text x="813.01" y="61.40" text-anchor="start" font-size="17.4" textLength="55.33" lengthAdjust="spacingAndGlyphs">CH<tspan font-size="0.62em" dy="5.3">2</tspan><tspan dy="-5.3">Cl</tspan><tspan font-size="0.62em" dy="5.3">2</tspan></text>
<path d="M779,83.8 H808.5" stroke="#F7821E" stroke-width="3.6" stroke-linecap="round"/>
<text x="812.94" y="87.35" text-anchor="start" font-size="17.4" textLength="58.07" lengthAdjust="spacingAndGlyphs">CH<tspan font-size="0.62em" dy="5.3">3</tspan><tspan dy="-5.3">CN</tspan></text>
<path d="M779,109.8 H808.5" stroke="#0A0AE6" stroke-width="3.6" stroke-linecap="round"/>
<text x="813.29" y="114.40" text-anchor="start" font-size="17.351" textLength="43.94" lengthAdjust="spacingAndGlyphs">EtOH</text>
<path d="M779,132.6 H808.5" stroke="#E60A0A" stroke-width="3.6" stroke-linecap="round"/>
<text x="813.64" y="136.50" text-anchor="start" font-size="17.351" textLength="91.31" lengthAdjust="spacingAndGlyphs">PBS buffer</text></g>
</svg>
</body></html>
